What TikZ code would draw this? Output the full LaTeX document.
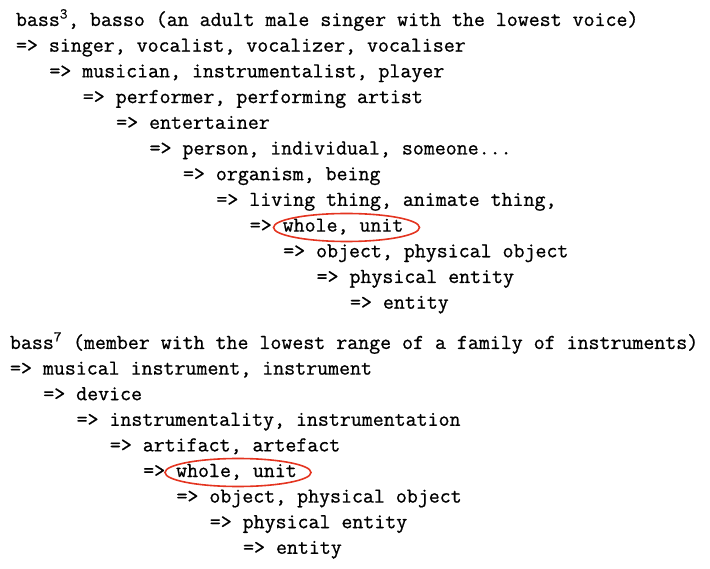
\documentclass[tikz,border=0pt]{standalone}
\usepackage{fontspec}
\setmonofont[FakeBold=0.8]{Latin Modern Mono}
\usetikzlibrary{shapes.geometric}
\definecolor{hlred}{RGB}{228,52,32}
\tikzset{
  ln/.style={anchor=base west, inner sep=0pt, outer sep=0pt,
    font=\ttfamily\fontsize{21.3}{25}\selectfont},
  hl/.style={draw=hlred, line width=1.6pt, ellipse, inner sep=0pt,
    minimum width=146pt, minimum height=28pt},
}
\begin{document}
\begin{tikzpicture}[x=1pt,y=-1pt]
\useasboundingbox (0,0) rectangle (710,569);
% first hierarchy
\node[ln] (a1)  at (16,26)      {bass\textsuperscript{3}, basso (an adult male singer with the lowest voice)};
\node[ln] (a2)  at (16,51.7)    {=> singer, vocalist, vocalizer, vocaliser};
\node[ln] (a3)  at (49.4,77.4)  {=> musician, instrumentalist, player};
\node[ln] (a4)  at (82.8,103.1) {=> performer, performing artist};
\node[ln] (a5)  at (116.2,128.8) {=> entertainer};
\node[ln] (a6)  at (149.6,154.5) {=> person, individual, someone...};
\node[ln] (a7)  at (183,180.2)  {=> organism, being};
\node[ln] (a8)  at (216.4,205.9) {=> living thing, animate thing,};
\node[ln] (a9)  at (249.8,231.6) {=> whole, unit};
\node[ln] (a10) at (283.2,257.3) {=> object, physical object};
\node[ln] (a11) at (316.6,283)  {=> physical entity};
\node[ln] (a12) at (350,308.7)  {=> entity};
\node[hl] (e1) at (346.5,227.5) {};
% second hierarchy
\node[ln] (b1) at (10,349)       {bass\textsuperscript{7} (member with the lowest range of a family of instruments)};
\node[ln] (b2) at (10,374.6)     {=> musical instrument, instrument};
\node[ln] (b3) at (43.3,400.2)   {=> device};
\node[ln] (b4) at (76.6,425.8)   {=> instrumentality, instrumentation};
\node[ln] (b5) at (109.9,451.4)  {=> artifact, artefact};
\node[ln] (b6) at (143.2,477)    {=> whole, unit};
\node[ln] (b7) at (176.5,502.6)  {=> object, physical object};
\node[ln] (b8) at (209.8,528.2)  {=> physical entity};
\node[ln] (b9) at (243.1,553.8)  {=> entity};
\node[hl] (e2) at (238,472.5) {};
\end{tikzpicture}
\end{document}
